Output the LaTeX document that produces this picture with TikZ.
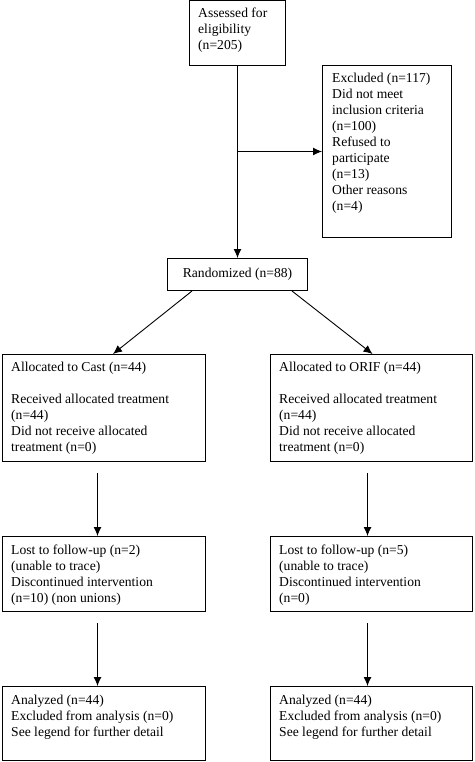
\documentclass[tikz,border=0pt]{standalone}
\usepackage{fontspec}
\setmainfont{Liberation Serif}
\usetikzlibrary{arrows.meta}

\begin{document}
\begin{tikzpicture}[x=1pt, y=-1pt,
	box/.style={draw, line width=1pt, inner sep=0pt, anchor=north west, font=\fontsize{13.6}{16}\selectfont},
	txt/.style={inner sep=0pt, anchor=north west, align=left, font=\fontsize{13.6}{16}\selectfont},
	arr/.style={line width=0.9pt, -{Latex[length=9pt, width=8pt]}}]
	\useasboundingbox (0,0) rectangle (474,762);
	\node[box, minimum width=96, minimum height=65] (assess) at (189,0) {};
	\node[box, minimum width=129, minimum height=172] (excl) at (322,65) {};
	\node[box, minimum width=140, minimum height=32] (rand) at (167,258) {Randomized (n=88)};
	\node[box, minimum width=203, minimum height=107] (cast) at (2,354) {};
	\node[box, minimum width=202, minimum height=107] (orif) at (270,354) {};
	\node[box, minimum width=203, minimum height=75] (lostc) at (2,536) {};
	\node[box, minimum width=202, minimum height=75] (losto) at (270,536) {};
	\node[box, minimum width=203, minimum height=74] (anac) at (2,686) {};
	\node[box, minimum width=202, minimum height=74] (anao) at (270,686) {};
	\node[txt] (assesst) at (198,8) {Assessed for\\eligibility\\(n=205)};
	\node[txt] (exclt) at (332,73) {Excluded (n=117)\\Did not meet\\inclusion criteria\\(n=100)\\Refused to\\participate\\(n=13)\\Other reasons\\(n=4)};
	\node[txt] (castt) at (11,362) {Allocated to Cast (n=44)\\[16pt]Received allocated treatment\\(n=44)\\Did not receive allocated\\treatment (n=0)};
	\node[txt] (orift) at (279,362) {Allocated to ORIF (n=44)\\[16pt]Received allocated treatment\\(n=44)\\Did not receive allocated\\treatment (n=0)};
	\node[txt] (lostct) at (11,545) {Lost to follow-up (n=2)\\(unable to trace)\\Discontinued intervention\\(n=10) (non unions)};
	\node[txt] (lostot) at (279,545) {Lost to follow-up (n=5)\\(unable to trace)\\Discontinued intervention\\(n=0)};
	\node[txt] (anact) at (11,695) {Analyzed (n=44)\\Excluded from analysis (n=0)\\See legend for further detail};
	\node[txt] (anaot) at (279,695) {Analyzed (n=44)\\Excluded from analysis (n=0)\\See legend for further detail};
	\coordinate (c1) at ([shift={(-6.5,11)}]cast.south);
	\coordinate (c2) at ([shift={(-4,11)}]orif.south);
	\coordinate (c3) at ([shift={(-6.5,11)}]lostc.south);
	\coordinate (c4) at ([shift={(-4,11)}]losto.south);
	\draw[arr] (assess) -- (rand);
	\draw[arr] (assess.south |- excl.west) -- (excl.west);
	\draw[arr] ([xshift=25pt]rand.south west) -- ([xshift=9pt]cast.north);
	\draw[arr] ([xshift=-16pt]rand.south east) -- ([xshift=1pt]orif.north);
	\draw[arr] (c1) -- (c1 |- lostc.north);
	\draw[arr] (c2) -- (c2 |- losto.north);
	\draw[arr] (c3) -- (c3 |- anac.north);
	\draw[arr] (c4) -- (c4 |- anao.north);
\end{tikzpicture}
\end{document}
